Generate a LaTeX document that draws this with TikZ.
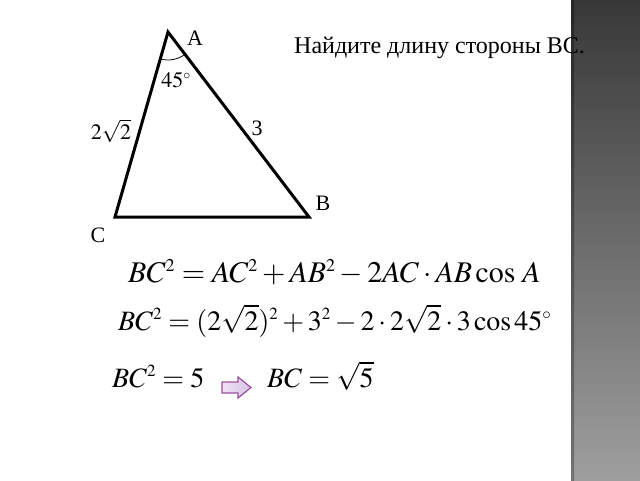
\documentclass[tikz,border=0pt]{standalone}
\usepackage{mathptmx}
\usepackage[no-math]{fontspec}
\setmainfont{Liberation Serif}
\usetikzlibrary{angles}
\DeclareMathSizes{30}{30}{18}{12}
\DeclareMathSizes{28}{28}{17}{12}
\DeclareMathSizes{22}{22}{14}{10}
\definecolor{arrowline}{HTML}{9B50A0}
\definecolor{arrowfillA}{HTML}{EEE2F4}
\definecolor{arrowfillB}{HTML}{D9C2E6}
\tikzset{
  side/.style={line width=3pt, line join=miter},
  lbl/.style={font=\fontsize{22}{26}\selectfont, inner sep=0pt},
  eq/.style={font=\fontsize{28}{32}\selectfont, inner sep=0pt, anchor=base west},
  eqbig/.style={eq, font=\fontsize{30}{34}\selectfont},
}
\begin{document}
\begin{tikzpicture}[x=1pt,y=-1pt]
\useasboundingbox (0,0) rectangle (640,480);
% right decorative stripe
\shade[top color=black!78, bottom color=black!38] (571,0) rectangle (640,480);
\shade[top color=black!85, bottom color=black!55] (571,0) rectangle (574,480);
% triangle
\coordinate (A) at (168,32);
\coordinate (B) at (309,217);
\coordinate (C) at (115,217);
\draw[side] (A) -- (B) -- (C) -- cycle;
\pic[draw, line width=0.8pt, angle radius=28pt] {angle=C--A--B};
% labels
\node[lbl] (la) at (195,38) {A};
\node[lbl] (lb) at (323,203) {B};
\node[lbl] (lc) at (98,235) {C};
\node[lbl] (l45) at (176,80) {$45^{\circ}$};
\node[lbl] (l3) at (257,128) {3};
\node[lbl] (l22) at (111,131) {$2\sqrt{2}$};
\node[font=\fontsize{24}{28}\selectfont, inner sep=0pt, anchor=base west] (task) at (294,53) {Найдите длину стороны ВС.};
% equations
\node[eqbig] (e1) at (128,282) {$BC^2 = AC^2 + AB^2 - 2AC\cdot AB\cos\,A$};
\node[eq] (e2) at (118,330) {$BC^2 = (2\sqrt{2})^2 + 3^2 - 2\cdot 2\sqrt{2}\cdot 3\cos 45^{\circ}$};
\node[eq] (e3) at (112,387) {$BC^2 = 5$};
\node[eq] (e4) at (267,387) {$BC = \sqrt{5}$};
% block arrow
\draw[arrowline, line width=1.2pt, line join=miter, left color=arrowfillA, right color=arrowfillB]
  (222,382) -- (238,382) -- (238,377) -- (251,387.5) -- (238,398) -- (238,393) -- (222,393) -- cycle;
\end{tikzpicture}
\end{document}
